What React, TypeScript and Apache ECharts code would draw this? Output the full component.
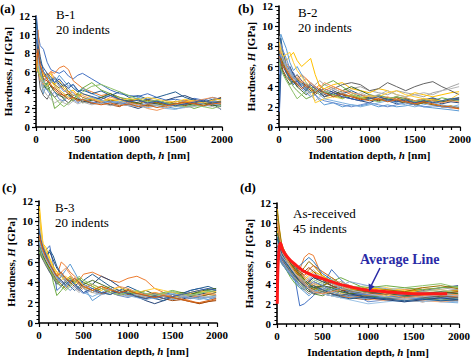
import React, { useEffect, useRef } from "react";
import * as echarts from "echarts";

const FONT = "Liberation Serif, Times New Roman, serif";

const COLORS = [
  "#4472C4", "#ED7D31", "#A5A5A5", "#FFC000", "#5B9BD5", "#70AD47",
  "#264478", "#9E480E", "#636363", "#997300", "#255E91", "#43682B",
  "#698ED0", "#F1975A", "#B7B7B7", "#FFCD33", "#7CAFDD", "#8CC168",
  "#335AA1", "#D26012", "#848484", "#CC9A00", "#327DC2", "#5A8A39",
  "#8FAADC", "#F4B183", "#C9C9C9", "#FFD966", "#9DC3E6", "#A9D18E",
];

const X_TICKS = [0, 500, 1000, 1500, 2000];
const Y_TICKS = [0, 2, 4, 6, 8, 10, 12];

// depth points (nm) for panels a, b, c
const DEPTH_ABC = [5, 20, 45, 80, 120, 160, 200, 250, 300, 350, 400, 450, 500, 600, 700, 800, 900, 1000, 1100, 1200, 1300, 1400, 1500, 1600, 1700, 1800, 1900, 1990];
// depth points (nm) for panel d
const DEPTH_D = [5, 25, 50, 100, 150, 200, 250, 300, 350, 400, 500, 600, 700, 800, 1000, 1200, 1400, 1600, 1800, 1990];

const B1_LINES = [
  [12.0,10.2,8.8,8.4,7.0,6.2,6.0,5.8,6.1,5.5,5.2,5.6,5.8,5.2,4.6,4.0,3.6,3.4,3.3,3.6,3.2,2.9,3.0,2.8,3.1,2.9,3.2,3.0],
  [6.0,10.5,7.2,5.0,5.6,6.0,5.8,6.4,6.6,6.2,5.0,4.6,4.2,3.8,3.4,3.6,3.2,2.8,2.5,2.2,2.4,2.6,2.3,2.9,2.6,2.8,2.4,2.5],
  [9.5,7.8,6.0,4.8,4.2,3.8,4.4,4.0,3.6,3.2,3.0,3.4,2.8,3.0,2.6,2.9,2.7,2.5,2.6,2.4,2.3,2.6,2.5,2.8,2.4,2.6,2.5,2.3],
  [8.0,7.4,6.2,5.6,5.2,5.8,4.6,5.0,4.2,3.8,4.0,3.4,3.6,3.2,2.8,3.0,2.7,2.9,3.1,2.6,2.4,2.7,2.5,2.7,2.9,2.6,2.8,2.7],
  [11.0,8.6,5.4,3.6,4.8,5.2,4.8,5.6,5.0,4.4,4.6,3.8,4.2,3.6,3.2,3.4,3.0,2.8,3.2,2.9,2.5,2.2,2.0,2.1,2.3,2.5,2.8,3.1],
  [7.5,6.6,5.8,4.2,4.8,3.6,2.0,2.4,3.0,3.4,3.0,3.6,4.2,4.8,4.0,3.6,3.2,3.0,2.9,2.8,2.4,2.6,2.2,2.4,2.0,2.3,2.6,2.7],
  [10.0,8.0,6.4,5.0,4.4,4.8,5.2,4.6,4.0,3.6,3.2,3.0,2.8,2.6,2.9,2.7,2.5,2.3,2.0,2.4,2.6,2.9,3.2,3.4,3.0,2.7,2.5,1.9],
  [9.0,7.0,5.8,5.2,5.0,4.4,4.2,3.8,3.4,3.6,3.2,3.0,2.8,3.0,2.6,2.4,2.2,2.8,3.0,2.5,2.7,2.4,2.6,2.3,2.5,2.7,2.9,3.2],
  [8.5,6.4,4.2,3.4,3.0,3.8,3.2,3.6,3.0,2.6,3.2,2.8,3.0,2.5,2.8,2.4,2.6,2.4,2.7,3.0,2.8,2.6,2.5,2.4,2.6,2.8,2.4,2.2],
  [7.0,6.8,6.0,5.4,5.8,5.0,4.6,4.2,4.6,3.8,3.4,3.6,3.2,2.9,3.2,2.8,3.0,2.7,2.5,2.9,2.6,2.4,2.8,2.6,2.4,2.5,2.7,2.8],
  [11.5,9.0,7.6,6.0,5.4,5.0,5.4,4.8,4.4,4.8,4.2,3.8,4.0,3.6,3.9,3.4,3.8,3.2,3.4,3.0,3.2,3.5,3.8,3.2,2.9,2.7,3.0,3.1],
  [6.5,6.0,5.2,4.6,4.0,4.4,3.8,3.4,3.2,3.6,2.8,3.2,2.6,2.9,3.2,3.6,3.0,2.8,2.6,2.3,2.5,2.2,2.4,2.6,2.3,2.5,2.3,2.4],
  [10.5,7.8,5.6,4.4,4.0,3.4,3.8,3.0,2.8,3.4,3.0,2.6,3.0,2.7,2.5,2.8,2.6,2.4,2.2,2.6,2.8,2.5,2.3,2.1,2.4,2.6,2.8,2.6],
  [8.0,6.2,5.0,4.6,5.4,6.0,5.2,4.4,4.0,3.6,3.8,3.2,3.4,3.0,2.7,3.2,3.0,2.6,2.4,2.0,1.8,2.1,2.4,2.6,2.8,3.0,3.2,2.9],
  [9.0,7.2,5.4,4.0,3.4,3.0,2.6,2.9,2.6,2.4,2.8,2.5,2.7,2.4,2.6,2.3,2.5,2.3,2.2,2.5,2.4,2.2,2.3,2.1,2.2,2.4,2.2,2.0],
  [7.2,6.4,5.4,4.8,4.4,5.0,4.4,4.0,3.6,3.2,3.0,3.3,2.9,3.1,2.8,3.0,2.8,3.1,2.9,3.2,3.0,2.8,2.7,3.0,2.8,2.6,2.9,3.0],
  [10.0,8.0,6.2,4.8,5.6,4.8,5.2,4.4,3.8,4.2,3.6,3.2,2.9,3.2,2.9,2.6,2.8,2.5,2.3,2.1,2.3,2.0,1.9,2.2,2.4,2.2,2.5,2.3],
  [6.8,6.0,5.6,5.0,4.2,3.6,3.2,2.6,2.2,2.6,3.0,3.4,3.8,4.4,4.6,4.2,3.8,3.4,3.0,2.7,2.9,2.6,2.4,2.2,2.4,2.2,2.0,2.3],
  [9.5,8.2,7.0,6.4,5.8,5.4,4.8,5.2,4.6,4.2,4.6,4.0,3.6,3.3,3.0,3.4,3.0,2.7,2.9,2.6,2.8,2.5,2.3,2.5,2.7,2.9,2.6,2.7],
  [6.2,8.4,6.6,5.8,5.2,4.6,4.0,3.6,3.4,3.0,3.2,2.8,3.0,2.6,2.4,2.6,2.3,2.5,2.2,2.4,2.1,2.3,2.5,2.7,2.5,2.3,2.5,2.6],
];

const B2_LINES = [
  [1.5,5.0,6.8,5.6,4.8,5.4,4.6,4.2,3.8,4.4,4.0,3.6,3.8,3.4,3.0,2.8,3.2,2.9,2.6,2.8,2.5,2.7,2.4,2.6,2.8,2.5,2.6,2.8],
  [8.0,7.4,6.8,6.2,5.6,5.0,4.6,5.2,4.8,4.2,3.8,4.2,3.6,4.0,3.6,3.2,2.9,3.1,2.8,2.6,2.9,2.7,2.5,2.4,2.2,2.0,1.9,1.8],
  [9.0,8.4,7.2,6.4,5.8,5.2,4.8,4.4,4.0,3.6,4.2,4.6,4.2,3.8,3.4,3.8,4.0,3.6,3.4,3.2,3.6,3.4,3.2,3.0,3.4,3.6,4.0,4.3],
  [7.6,8.0,7.2,6.6,7.0,7.4,6.6,6.0,6.4,6.8,5.2,4.0,3.8,4.2,4.4,3.8,3.6,3.4,3.8,3.6,3.2,3.0,3.4,3.2,3.0,3.2,3.4,3.5],
  [4.0,9.2,8.6,7.8,6.4,5.6,6.0,5.2,4.4,3.8,3.2,2.6,2.2,2.4,2.0,2.2,2.1,2.3,2.0,2.2,2.0,2.1,2.3,2.0,1.9,1.8,1.7,1.6],
  [6.0,7.0,6.2,5.4,4.6,4.0,3.6,3.2,2.8,3.0,3.4,3.8,4.2,4.6,4.0,3.4,3.0,2.8,3.2,2.9,2.7,2.9,2.6,2.8,2.6,2.9,2.7,2.8],
  [2.0,7.8,6.6,5.4,6.0,5.2,4.6,4.0,3.6,4.0,3.4,3.8,3.2,3.6,3.2,2.8,2.6,2.4,2.8,2.6,2.3,2.5,2.2,2.4,2.6,2.3,2.5,2.4],
  [7.0,6.4,5.6,5.0,4.6,5.0,4.2,4.6,4.0,3.6,3.2,3.6,3.0,3.4,3.2,3.0,2.7,2.9,2.6,2.8,2.9,2.6,2.4,2.6,2.8,2.5,2.7,2.9],
  [8.2,7.6,6.8,6.0,5.4,4.8,5.2,4.6,4.2,3.8,4.0,3.6,3.4,3.8,4.2,4.4,4.2,3.6,3.8,4.4,4.0,3.6,4.0,4.3,4.5,4.0,3.6,3.2],
  [7.4,7.0,6.2,5.8,5.0,4.4,4.8,4.2,3.8,3.4,3.8,3.4,3.0,3.2,2.9,3.1,2.8,3.0,2.7,2.9,2.6,2.4,2.2,2.4,2.2,2.0,2.1,1.9],
  [3.0,8.8,7.4,6.0,5.2,4.6,4.0,4.4,3.8,3.4,3.6,3.2,3.5,3.0,3.3,3.6,3.2,2.9,3.1,2.8,2.6,2.8,2.6,2.7,2.9,2.6,2.8,2.9],
  [6.6,6.0,5.4,4.8,4.2,4.6,4.0,3.6,3.2,3.6,3.4,3.8,3.4,3.2,3.6,4.0,3.6,3.2,3.0,2.8,3.0,2.8,2.6,2.5,2.7,2.5,2.6,2.7],
  [5.2,8.2,7.6,6.8,5.8,5.0,4.4,3.8,3.4,3.0,3.2,2.8,2.6,2.4,2.2,2.0,2.2,2.4,2.2,2.0,2.2,2.4,2.2,2.0,2.1,2.0,1.9,2.0],
  [7.8,7.2,6.6,5.8,5.2,4.6,5.0,4.4,4.8,4.4,4.0,3.8,4.4,4.0,3.6,3.4,3.2,3.0,2.8,3.0,2.7,2.9,2.6,2.8,2.6,2.4,2.6,2.5],
  [8.6,7.8,7.0,6.0,5.4,4.8,4.4,4.0,3.6,3.2,2.6,3.0,3.4,3.8,3.4,3.0,3.4,3.0,3.2,3.6,3.2,3.0,3.2,3.4,3.2,3.6,3.8,4.0],
  [8.4,7.6,7.0,7.2,7.4,6.4,5.6,5.0,4.4,4.0,2.4,2.6,2.8,3.0,2.8,3.2,2.9,3.1,3.0,3.4,3.6,3.2,3.0,2.8,2.7,2.6,2.8,3.3],
  [6.8,7.2,6.6,6.0,5.6,5.0,4.6,4.2,3.8,3.4,3.6,3.2,2.8,2.6,2.4,2.2,2.0,2.2,2.4,2.6,2.4,2.2,2.0,2.2,2.4,2.2,2.0,2.2],
  [6.4,5.8,5.2,4.6,4.0,3.4,2.8,3.2,3.6,4.0,3.6,3.2,3.6,3.2,2.8,3.2,2.9,2.7,2.5,2.8,3.0,2.7,2.5,2.7,2.4,2.6,2.8,2.6],
  [7.2,6.6,6.0,5.4,4.8,4.2,4.6,4.0,3.6,4.2,3.8,3.4,3.0,3.4,3.0,2.8,2.6,2.8,3.0,2.7,2.5,2.7,2.4,2.6,2.4,2.6,2.8,2.7],
  [7.0,6.6,6.0,5.6,5.0,4.6,4.2,3.8,4.2,3.8,3.4,3.8,3.4,3.0,3.3,3.0,2.8,2.6,2.8,2.5,2.7,2.5,2.3,2.5,2.3,2.1,2.0,1.8],
];

const B3_LINES = [
  [9.6,8.0,6.6,7.2,7.6,5.8,3.2,3.6,4.2,4.6,4.0,4.4,3.8,3.4,2.8,3.2,2.9,3.2,2.6,2.9,2.6,2.8,3.0,2.8,3.2,3.4,3.2,3.4],
  [9.0,8.4,7.6,6.8,6.0,5.2,4.6,6.0,5.6,5.0,4.6,4.2,4.8,5.0,4.6,4.2,4.0,4.4,4.6,4.2,3.4,3.0,2.6,2.4,2.2,1.9,2.1,2.3],
  [10.0,8.6,7.0,6.2,5.4,4.8,4.2,4.6,4.0,3.6,4.0,3.4,3.8,3.2,3.6,3.0,2.8,3.0,2.7,2.5,2.7,2.9,2.6,2.8,2.6,2.4,2.6,2.5],
  [11.5,10.0,7.8,7.4,6.4,5.6,5.0,4.6,4.2,4.6,4.0,4.4,4.0,3.6,3.2,3.6,3.2,2.9,3.1,2.8,3.0,2.8,2.5,2.7,2.9,3.0,2.8,3.0],
  [8.0,7.2,6.4,5.8,5.0,4.6,4.0,4.6,5.2,5.8,5.0,4.2,3.6,2.2,2.8,3.4,3.0,2.6,3.0,2.7,2.4,2.6,2.3,2.5,2.7,2.5,2.3,2.6],
  [7.0,6.6,6.2,7.0,6.0,4.0,2.7,3.2,3.8,4.2,3.8,4.4,4.0,3.6,3.0,2.8,3.2,3.0,2.8,2.6,2.8,3.0,3.2,3.0,2.8,3.0,3.2,3.0],
  [9.2,8.2,7.4,6.6,7.0,6.2,5.4,4.8,4.4,4.0,3.6,4.0,3.4,3.8,4.6,4.2,3.6,3.0,2.6,2.2,1.9,2.2,2.5,2.3,2.6,2.8,3.0,3.2],
  [8.4,7.6,6.8,6.0,5.4,5.0,4.4,4.0,3.6,4.0,3.6,3.2,3.6,3.2,2.9,3.2,3.0,2.8,2.6,2.4,2.6,2.4,2.2,2.3,2.1,1.9,2.1,2.2],
  [7.6,6.8,6.2,5.6,5.0,4.4,3.8,4.2,3.6,4.0,4.4,4.0,3.6,3.2,3.6,3.2,2.9,3.2,2.9,2.7,2.9,2.6,2.4,2.6,2.4,2.6,2.8,3.0],
  [8.8,7.8,6.6,6.0,5.4,4.8,4.2,3.8,3.4,3.8,4.2,3.8,3.4,3.0,3.4,3.0,2.7,2.9,2.6,2.8,2.5,2.7,2.4,2.6,2.8,2.6,2.8,2.7],
  [9.4,8.0,7.0,6.4,7.2,6.6,5.6,4.8,4.2,3.6,3.2,3.6,4.2,4.8,4.2,3.6,3.2,3.6,3.2,2.8,2.4,2.2,2.6,2.9,3.2,3.4,3.6,3.3],
  [8.2,7.4,6.6,6.0,5.2,4.6,4.0,3.6,4.0,4.4,3.8,3.4,3.8,4.2,3.8,3.4,3.0,3.3,2.9,3.2,2.8,2.6,2.8,3.0,2.8,3.1,3.3,3.4],
  [10.4,8.8,7.6,6.8,6.0,5.2,4.6,4.0,3.6,3.2,3.6,3.2,2.9,3.2,2.8,3.0,2.7,2.5,2.8,2.6,2.4,2.6,2.8,2.6,2.4,2.6,2.5,2.4],
  [8.6,7.8,7.0,6.2,5.6,5.0,4.4,5.0,5.4,4.8,4.2,3.8,3.4,3.8,3.4,3.2,3.6,3.4,3.0,2.8,3.0,2.8,2.6,2.8,2.5,2.7,2.9,2.8],
  [9.8,8.6,7.4,6.4,5.6,5.0,4.4,4.8,4.2,3.8,3.4,3.0,3.4,3.0,2.8,3.0,2.8,2.6,2.8,2.6,2.8,2.6,2.4,2.6,2.8,2.7,2.5,2.6],
  [11.0,9.2,7.8,7.0,6.2,5.4,4.8,4.2,4.6,4.2,3.8,4.2,3.6,3.2,3.6,3.2,3.5,3.2,3.0,3.2,3.4,3.2,3.0,2.8,3.0,3.2,3.0,3.1],
  [8.0,7.4,6.8,6.2,5.6,5.0,4.4,4.0,3.6,4.2,3.8,3.4,3.0,2.6,3.0,3.4,3.0,2.7,2.5,2.3,2.5,2.7,2.9,2.7,2.5,2.3,2.5,2.7],
  [7.4,7.0,6.4,5.8,5.2,4.6,4.0,3.6,3.2,3.6,4.0,4.6,4.2,3.8,3.4,3.0,2.8,3.0,3.2,2.9,2.7,2.9,3.1,2.9,2.7,2.9,3.1,3.2],
  [9.0,8.2,7.4,6.6,5.8,5.2,4.6,4.2,3.8,4.2,3.8,3.4,3.0,3.4,3.0,2.8,3.2,2.9,2.6,2.4,2.7,2.4,2.6,2.8,3.0,3.2,3.4,3.2],
  [8.6,8.0,7.2,6.4,5.8,5.2,4.6,5.0,4.4,4.0,4.4,4.0,3.6,3.2,3.6,3.3,3.0,3.2,2.9,2.7,2.5,2.7,2.5,2.3,2.1,2.0,2.2,2.4],
];

const AS_RECEIVED_LINES = [
  [9.0,8.2,6.8,5.8,5.0,4.4,1.8,2.0,2.4,2.8,3.8,5.4,4.4,3.6,3.2,2.8,2.6,2.5,2.3,2.2],
  [8.0,7.6,6.6,6.0,5.6,5.0,5.4,6.6,7.0,6.8,4.6,4.0,3.8,3.4,3.6,3.2,3.0,2.8,3.0,3.2],
  [10.0,8.6,7.2,6.2,5.4,5.0,4.6,4.2,4.0,3.8,3.6,3.4,3.2,3.0,2.8,2.9,2.7,2.6,2.8,2.7],
  [7.4,7.0,6.4,5.8,5.4,4.8,4.4,4.8,5.2,4.6,4.2,3.8,3.6,3.4,3.0,3.2,3.4,3.2,3.0,3.3],
  [11.0,9.0,7.6,6.4,5.8,5.2,4.6,4.0,3.6,3.2,3.6,3.2,3.0,2.8,2.6,2.5,2.7,2.4,2.6,2.5],
  [8.6,7.8,6.8,5.4,4.6,4.0,3.6,3.4,3.8,4.2,3.8,4.2,4.6,4.2,3.4,3.0,2.8,3.0,2.7,2.9],
  [9.4,8.4,7.4,6.6,6.0,5.4,5.0,4.6,4.2,4.6,4.4,4.0,3.6,3.3,3.0,2.8,3.0,3.3,3.6,3.8],
  [7.8,7.2,6.2,5.6,5.0,4.6,4.2,3.8,3.4,3.6,3.2,3.0,2.8,2.6,2.4,2.6,2.4,2.2,2.4,2.3],
  [10.4,8.8,7.6,6.8,6.2,5.8,5.2,4.8,4.4,4.0,3.8,3.6,3.8,3.4,3.2,3.0,3.2,3.0,2.8,2.9],
  [8.2,7.4,6.6,6.0,5.2,4.6,5.0,5.6,6.2,5.8,4.8,4.2,3.8,3.6,3.2,3.4,3.2,3.0,3.2,3.4],
  [9.8,8.6,7.2,6.2,5.6,5.0,4.4,4.0,3.6,3.2,3.0,2.8,3.0,3.2,2.8,2.6,2.5,2.7,2.5,2.4],
  [7.0,6.6,6.0,5.4,4.8,4.4,4.0,3.6,3.2,3.4,3.8,3.4,3.2,3.0,2.7,2.9,3.1,2.9,2.7,2.8],
  [8.8,7.8,6.6,5.8,5.2,4.8,4.4,4.0,4.4,4.8,4.4,3.8,3.4,3.2,2.2,2.4,2.6,2.4,2.6,2.7],
  [10.8,9.2,7.8,6.6,5.8,5.2,4.8,4.4,4.0,3.6,3.4,3.2,3.0,2.8,3.0,3.2,3.4,3.6,3.4,3.2],
  [7.6,7.0,6.4,5.8,5.2,4.6,4.2,4.6,5.0,5.4,4.6,4.0,3.6,3.2,3.4,3.0,2.8,2.6,2.4,2.5],
  [9.2,8.0,7.0,6.4,5.8,5.4,5.0,4.6,4.2,3.8,3.4,3.8,4.2,3.8,3.4,3.6,3.3,3.1,2.9,3.0],
  [8.4,7.6,6.8,6.2,5.6,5.0,4.4,3.8,3.4,3.0,3.2,3.6,3.2,2.9,2.6,2.4,2.2,2.4,2.2,2.1],
  [10.2,8.4,7.0,6.0,5.4,4.8,4.2,3.8,3.4,3.8,4.2,4.6,4.0,3.6,3.8,3.4,3.6,3.8,4.0,3.6],
  [7.2,6.8,6.2,5.6,5.0,4.4,4.0,3.6,3.8,4.2,3.8,3.4,3.0,2.8,3.0,2.8,2.6,2.8,3.0,2.8],
  [9.6,8.8,7.8,7.0,6.2,5.6,5.2,4.8,5.4,5.8,5.2,4.6,4.0,3.6,3.2,3.0,2.8,3.0,2.8,2.6],
  [8.0,7.4,6.6,5.8,5.0,4.4,3.8,3.4,3.0,3.4,3.0,2.8,2.6,2.8,2.6,2.4,2.6,2.8,2.6,2.4],
  [11.4,9.6,8.0,6.8,6.0,5.4,4.8,4.4,4.0,3.6,3.8,3.4,3.2,3.6,3.2,3.0,3.2,3.4,3.2,3.3],
  [7.8,7.4,6.8,6.2,5.8,5.4,5.8,6.2,6.6,6.2,5.0,4.4,3.8,3.4,3.0,3.2,2.9,2.7,2.9,3.1],
  [9.0,8.0,7.0,6.2,5.4,4.8,4.2,3.8,3.4,3.0,2.8,3.2,3.6,3.2,2.8,2.6,2.8,2.6,2.4,2.6],
  [8.6,7.8,7.0,6.4,5.8,5.2,4.6,4.2,3.8,4.2,4.6,4.2,3.8,4.2,3.8,3.5,3.2,3.0,3.2,3.0],
  [10.6,8.8,7.4,6.4,5.6,5.0,4.4,4.8,4.4,4.0,3.6,3.2,2.9,2.7,2.5,2.3,2.5,2.3,2.2,2.3],
  [7.4,7.0,6.4,5.6,5.0,4.6,4.2,3.8,3.4,3.0,3.4,3.8,3.4,3.0,3.2,3.4,3.6,3.4,3.2,3.5],
  [9.8,8.4,7.2,6.4,5.8,5.2,4.6,4.2,3.8,4.2,3.6,3.2,3.0,3.2,3.0,2.8,3.0,2.8,3.0,2.9],
  [8.2,7.6,6.8,6.0,5.4,4.8,4.4,4.0,3.6,3.2,3.0,2.8,2.6,2.4,2.0,2.2,2.4,2.2,2.4,2.2],
  [9.4,8.2,7.0,6.0,5.2,4.6,4.0,3.6,4.0,4.4,4.0,4.4,4.0,3.6,3.4,3.2,3.0,3.2,3.4,3.1],
  [7.6,7.2,6.6,6.0,5.6,5.0,4.6,4.2,3.8,3.6,3.4,3.2,3.4,3.0,2.9,3.1,2.9,2.7,2.9,3.0],
  [10.0,8.6,7.4,6.6,6.0,5.4,5.0,4.6,4.2,3.8,3.4,3.0,2.8,2.6,2.8,3.0,3.2,3.0,2.8,2.7],
  [8.8,8.0,7.2,6.4,5.6,5.0,4.4,3.8,3.4,3.0,3.4,3.8,4.2,3.8,3.4,3.2,2.9,3.2,3.6,3.4],
  [9.2,8.4,7.4,6.6,5.8,5.2,4.8,4.4,4.8,5.2,4.8,4.2,3.8,3.4,3.6,3.4,3.2,3.0,2.8,3.0],
  [7.0,6.6,6.0,5.4,4.8,4.2,3.6,3.2,2.8,3.2,3.6,3.2,2.9,2.7,2.5,2.7,2.9,2.7,2.5,2.6],
  [10.4,9.0,7.8,6.8,6.0,5.4,4.8,4.4,4.0,3.6,3.2,3.6,3.4,3.2,3.6,3.8,3.6,3.4,3.6,3.7],
  [8.4,7.8,7.0,6.2,5.4,4.8,4.2,3.8,4.2,4.6,4.2,3.8,3.4,3.0,2.6,2.4,2.2,2.4,2.6,2.4],
  [9.6,8.6,7.6,6.8,6.0,5.4,4.8,5.2,5.6,5.2,4.4,3.8,3.4,3.2,3.0,3.2,3.0,2.8,3.0,3.2],
  [7.8,7.2,6.4,5.8,5.2,4.6,4.2,3.8,3.4,3.0,3.2,3.0,2.8,3.0,3.2,3.0,2.8,2.6,2.8,2.6],
  [11.0,9.4,7.8,6.6,5.8,5.2,4.6,4.2,3.8,3.4,3.8,4.2,3.8,3.4,3.2,3.4,3.2,3.6,3.8,3.5],
  [8.6,7.8,6.8,6.0,5.4,4.8,4.4,4.0,3.6,3.8,3.4,3.0,2.7,2.5,2.7,2.5,2.3,2.5,2.3,2.4],
  [9.0,8.2,7.4,6.6,6.0,5.6,5.0,4.4,4.0,3.6,3.8,3.6,3.2,3.0,3.2,3.0,2.8,3.0,3.2,3.0],
  [7.6,7.0,6.2,5.6,5.0,4.4,3.8,3.4,3.8,4.2,3.8,3.4,3.6,3.2,2.9,2.7,2.9,3.1,2.9,2.8],
  [10.2,8.8,7.6,6.6,5.8,5.0,4.4,4.0,3.6,3.2,3.0,3.2,3.4,3.6,3.4,3.0,2.6,2.8,3.0,2.9],
  [8.0,7.4,6.8,6.2,5.6,5.0,4.6,4.2,4.6,5.0,4.6,4.2,3.8,3.4,3.0,2.7,2.5,2.7,2.9,2.8],
];

const AVG_DEPTH = [3, 10, 25, 40, 60, 100, 150, 200, 300, 400, 500, 600, 700, 800, 900, 1000, 1200, 1400, 1600, 1870];
const AVG_VALUES = [2.0, 5.5, 7.6, 8.0, 7.4, 6.8, 6.3, 5.9, 5.2, 4.8, 4.5, 4.2, 3.9, 3.7, 3.5, 3.35, 3.2, 3.05, 3.0, 3.0];

const PANELS = [
  { label: "(a)", title: "B-1", count: "20 indents", depth: DEPTH_ABC, lines: B1_LINES },
  { label: "(b)", title: "B-2", count: "20 indents", depth: DEPTH_ABC, lines: B2_LINES },
  { label: "(c)", title: "B-3", count: "20 indents", depth: DEPTH_ABC, lines: B3_LINES },
  { label: "(d)", title: "As-received", count: "45 indents", depth: DEPTH_D, lines: AS_RECEIVED_LINES },
];

// layout only
const GRIDS = [
  { left: 36, top: 16, width: 186, height: 111 },
  { left: 279, top: 6, width: 184, height: 121 },
  { left: 39, top: 201, width: 178, height: 122 },
  { left: 277, top: 203, width: 182, height: 122 },
];
const LABEL_POS = [[0, 8], [238, 8], [2, 187], [240, 187]];
const TITLE_POS = [[56, 14], [298, 12], [55, 207], [293, 213]];

function zip(xs: number[], ys: number[]) {
  const n = Math.min(xs.length, ys.length);
  const out: number[][] = [];
  for (let i = 0; i < n; i++) out.push([xs[i], ys[i]]);
  return out;
}

export default function App() {
  const ref = useRef<HTMLDivElement>(null);
  useEffect(() => {
    if (!ref.current) return;
    const chart = echarts.init(ref.current, undefined, { renderer: "svg" });
    const tickFont = { fontFamily: FONT, fontWeight: "bold" as const, fontSize: 11, color: "#000" };
    const nameStyle = {
      fontFamily: FONT, fontWeight: "bold" as const, fontSize: 11, color: "#000",
      rich: { i: { fontFamily: FONT, fontWeight: "bold" as const, fontStyle: "italic" as const, fontSize: 11, color: "#000" } },
    };
    const xAxis = PANELS.map((_, k) => ({
      type: "value", gridIndex: k, min: X_TICKS[0], max: X_TICKS[X_TICKS.length - 1],
      interval: X_TICKS[1] - X_TICKS[0],
      name: "Indentation depth, {i|h} [nm]", nameLocation: "middle", nameGap: 22, nameTextStyle: nameStyle,
      axisLine: { show: true, onZero: false, lineStyle: { color: "#000", width: 1.6 } },
      axisTick: { show: true, length: 4, lineStyle: { color: "#000", width: 1.2 } },
      minorTick: { show: true, splitNumber: 5, length: 3, lineStyle: { color: "#000", width: 1.2 } },
      splitLine: { show: false },
      axisLabel: { ...tickFont, margin: 6, formatter: (v: number) => String(v) },
    }));
    const yAxis = PANELS.map((_, k) => ({
      type: "value", gridIndex: k, min: Y_TICKS[0], max: Y_TICKS[Y_TICKS.length - 1],
      interval: Y_TICKS[1] - Y_TICKS[0],
      name: "Hardness, {i|H} [GPa]", nameLocation: "middle", nameGap: 23, nameTextStyle: nameStyle,
      axisLine: { show: true, onZero: false, lineStyle: { color: "#000", width: 1.6 } },
      axisTick: { show: true, length: 4, lineStyle: { color: "#000", width: 1.2 } },
      minorTick: { show: true, splitNumber: 5, length: 2.5, lineStyle: { color: "#000", width: 1 } },
      splitLine: { show: false },
      axisLabel: { ...tickFont, margin: 6, formatter: (v: number) => String(v) },
    }));
    const series: any[] = [];
    PANELS.forEach((p, k) => {
      p.lines.forEach((vals, j) => {
        series.push({
          type: "line", xAxisIndex: k, yAxisIndex: k, data: zip(p.depth, vals),
          showSymbol: false, symbol: "none",
          lineStyle: { width: 1, color: COLORS[j % COLORS.length] },
          itemStyle: { color: COLORS[j % COLORS.length] },
          silent: true, z: 2,
        });
      });
    });
    series.push({
      type: "line", xAxisIndex: 3, yAxisIndex: 3, data: zip(AVG_DEPTH, AVG_VALUES),
      showSymbol: false, symbol: "none", smooth: 0.3,
      lineStyle: { width: 3, color: "#FF1A1A" }, z: 5,
    });
    const textStyle = (fs: number, bold = false, color = "#000") => ({
      font: `${bold ? "bold " : ""}${fs}px ${FONT}`,
      fontFamily: FONT, fontSize: fs, fontWeight: bold ? "bold" : "normal", fill: color,
      verticalAlign: "middle", align: "left",
    });
    const graphic: any[] = [];
    PANELS.forEach((p, k) => {
      graphic.push({ type: "text", x: LABEL_POS[k][0], y: LABEL_POS[k][1], style: { text: p.label, ...textStyle(13, true) } });
      graphic.push({ type: "text", x: TITLE_POS[k][0], y: TITLE_POS[k][1], style: { text: p.title, ...textStyle(13) } });
      graphic.push({ type: "text", x: TITLE_POS[k][0], y: TITLE_POS[k][1] + 15, style: { text: p.count, ...textStyle(13) } });
    });
    graphic.push({ type: "text", x: 360, y: 259, style: { text: "Average Line", ...textStyle(14, true, "#2A2AA6") }, z: 10 });
    graphic.push({ type: "line", shape: { x1: 380, y1: 268, x2: 371.5, y2: 285 }, style: { stroke: "#2A2AA6", lineWidth: 1.5 }, z: 10 });
    graphic.push({ type: "polygon", shape: { points: [[369, 291], [374.6, 286.4], [368.6, 283.6]] }, style: { fill: "#2A2AA6" }, z: 10 });

    chart.setOption({
      animation: false,
      backgroundColor: "#fff",
      grid: GRIDS.map((g) => ({ ...g, containLabel: false })),
      xAxis, yAxis, series, graphic,
    } as any);
    return () => chart.dispose();
  }, []);
  return <div ref={ref} style={{ position: "fixed", left: 0, top: 0, width: 474, height: 358 }} />;
}
